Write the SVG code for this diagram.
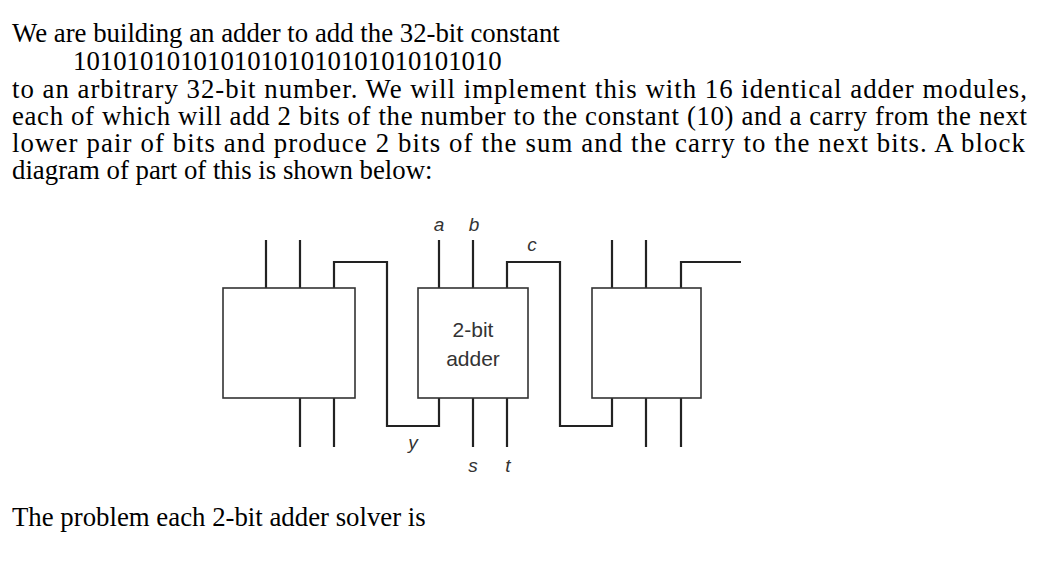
<svg xmlns="http://www.w3.org/2000/svg" width="1040" height="576" viewBox="0 0 1040 576">
<style>
.t{font-family:"Liberation Serif",serif;font-size:26.8px;fill:#000}
.w{fill:none;stroke:#222;stroke-width:2.2}
.b{fill:#fff;stroke:#333;stroke-width:1.6}
.l{font-family:"Liberation Sans",Arial,sans-serif;font-size:21px;fill:#333;text-anchor:middle}
.i{font-style:italic;font-size:19px}
</style>
<rect width="1040" height="576" fill="#fff"/>
<g id="text">
<text class="t" x="12" y="42">We are building an adder to add the 32-bit constant</text>
<text class="t" x="73" y="70">10101010101010101010101010101010</text>
<text class="t" x="12" y="98" textLength="1015" lengthAdjust="spacing">to an arbitrary 32-bit number. We will implement this with 16 identical adder modules,</text>
<text class="t" x="12" y="125" textLength="1015" lengthAdjust="spacing">each of which will add 2 bits of the number to the constant (10) and a carry from the next</text>
<text class="t" x="12" y="152" textLength="1013" lengthAdjust="spacing">lower pair of bits and produce 2 bits of the sum and the carry to the next bits. A block</text>
<text class="t" x="12" y="179">diagram of part of this is shown below:</text>
<text class="t" x="12" y="526">The problem each 2-bit adder solver is</text>
</g>
<g id="connectors">
<path class="w" d="M266 240V288M300 240V288M334 288V262H387V426H439V398M300 398V447M334 398V447"/>
<path class="w" d="M439 240V288M473 240V288M507 288V262H560V426H612V398M473 398V447M507 398V447"/>
<path class="w" d="M612 240V288M646 240V288M681 288V262H741M646 398V447M681 398V447"/>
</g>
<g id="left"><rect class="b" x="223" y="288" width="132" height="110"/></g>
<g id="adder"><rect class="b" x="418" y="288" width="110" height="110"/>
<text class="l" x="473" y="337">2-bit</text><text class="l" x="473" y="366">adder</text></g>
<g id="right"><rect class="b" x="592" y="288" width="109" height="110"/></g>
<g id="labels">
<text class="l i" x="439" y="231">a</text><text class="l i" x="474" y="231">b</text>
<text class="l i" x="532" y="251">c</text><text class="l i" x="413" y="449">y</text>
<text class="l i" x="473" y="472">s</text><text class="l i" x="508" y="472">t</text>
</g>
</svg>
